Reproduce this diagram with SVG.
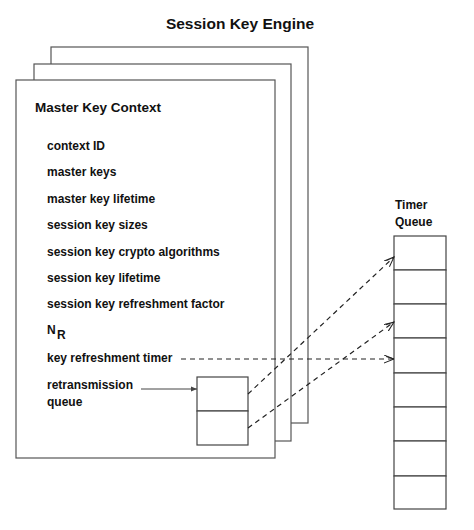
<svg xmlns="http://www.w3.org/2000/svg" width="474" height="530" viewBox="0 0 474 530">
<style>
.frame{fill:#fff;stroke:#555;stroke-width:1.2}
.cell{fill:#fff;stroke:#444;stroke-width:1.2}
text{font-family:"Liberation Sans",Arial,sans-serif;font-weight:bold;fill:#111}
.item{font-size:12px}
.dash{fill:none;stroke:#222;stroke-width:1.2;stroke-dasharray:5 4}
.solid{fill:none;stroke:#444;stroke-width:1}
</style>
<defs>
<marker id="open" markerWidth="12" markerHeight="10" refX="10" refY="4" orient="auto" markerUnits="userSpaceOnUse">
<path d="M0,0 L10,4 L0,8 M2,1.5 L10,4" fill="none" stroke="#222" stroke-width="1"/>
</marker>
<marker id="solidhead" markerWidth="8" markerHeight="6" refX="6" refY="3" orient="auto" markerUnits="userSpaceOnUse">
<path d="M0,0.5 L6,3 L0,5.5 Z" fill="#444"/>
</marker>
</defs>
<rect width="474" height="530" fill="#fff"/>
<text x="240" y="29" font-size="15.5" text-anchor="middle">Session Key Engine</text>
<g id="context-back"><rect class="frame" x="51" y="47" width="257" height="376"/></g>
<g id="context-middle"><rect class="frame" x="34" y="64" width="257" height="377"/></g>
<g id="master-key-context">
<rect class="frame" x="16" y="80" width="259" height="378"/>
<text x="35" y="112" font-size="13.5">Master Key Context</text>
<text class="item" x="47" y="150">context ID</text>
<text class="item" x="47" y="176">master keys</text>
<text class="item" x="47" y="203">master key lifetime</text>
<text class="item" x="47" y="229">session key sizes</text>
<text class="item" x="47" y="256">session key crypto algorithms</text>
<text class="item" x="47" y="282">session key lifetime</text>
<text class="item" x="47" y="308">session key refreshment factor</text>
<text class="item" x="47" y="334">N<tspan x="57" y="339">R</tspan></text>
<text class="item" x="47" y="362">key refreshment timer</text>
<text class="item" x="47" y="389">retransmission</text>
<text class="item" x="47" y="406">queue</text>
</g>
<g id="retransmission-queue">
<rect class="cell" x="197" y="377" width="51" height="34"/>
<rect class="cell" x="197" y="411" width="51" height="34"/>
</g>
<g id="timer-queue">
<text x="395" y="209" font-size="12">Timer</text>
<text x="395" y="226" font-size="12">Queue</text>
<rect class="cell" x="394" y="236" width="52" height="34"/>
<rect class="cell" x="394" y="270" width="52" height="34"/>
<rect class="cell" x="394" y="304" width="52" height="34"/>
<rect class="cell" x="394" y="338" width="52" height="35"/>
<rect class="cell" x="394" y="373" width="52" height="34"/>
<rect class="cell" x="394" y="407" width="52" height="34"/>
<rect class="cell" x="394" y="441" width="52" height="35"/>
<rect class="cell" x="394" y="476" width="52" height="33"/>
</g>
<g id="connectors">
<line class="solid" x1="141" y1="389" x2="197" y2="389" marker-end="url(#solidhead)"/>
<line class="dash" x1="181" y1="359" x2="394" y2="359" marker-end="url(#open)"/>
<line class="dash" x1="248" y1="394" x2="394" y2="257" marker-end="url(#open)"/>
<line class="dash" x1="248" y1="428" x2="394" y2="322" marker-end="url(#open)"/>
</g>
</svg>
